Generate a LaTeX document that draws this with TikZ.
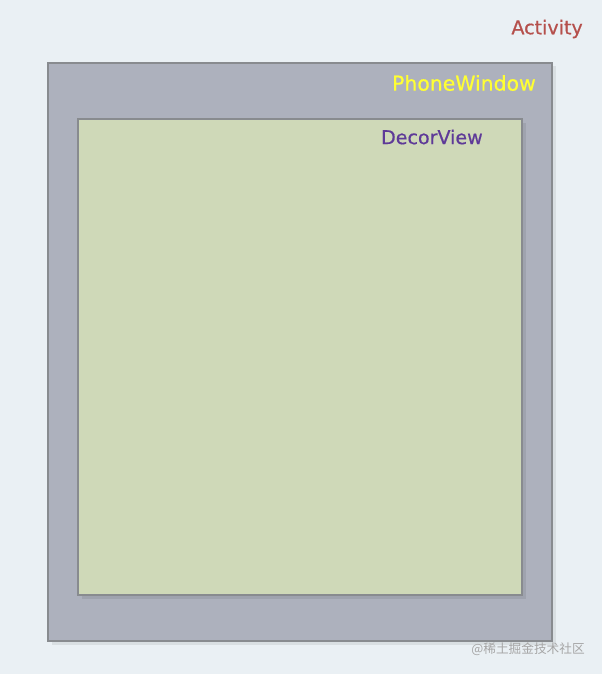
\documentclass[tikz,border=0pt]{standalone}
\usepackage{fontspec}
\setmainfont{DejaVu Sans}
\newfontfamily\labelfont[FakeBold=0.6]{DejaVu Sans}
\newfontfamily\cjk{Noto Sans CJK SC}
\usetikzlibrary{calc}
\definecolor{bgcol}{HTML}{EAF0F4}
\definecolor{windowcol}{HTML}{ADB1BD}
\definecolor{decorcol}{HTML}{CFD9B8}
\definecolor{edgecol}{HTML}{888B8F}
\definecolor{activitycol}{HTML}{B5504C}
\definecolor{phonecol}{HTML}{FFFF33}
\definecolor{decortext}{HTML}{5E3A98}

\begin{document}
\begin{tikzpicture}[x=0.75pt,y=-0.75pt,
		label/.style={inner sep=0pt, anchor=east}]
				\coordinate (O) at (0,0);
				\coordinate (E) at (602,674);
				\coordinate (w1) at (48,63);
				\coordinate (w2) at (552,641);
				\coordinate (d1) at (78,119);
				\coordinate (d2) at (522,595);
				\coordinate (s) at (3.5,3.5);
				
				\fill[bgcol] (O) rectangle (E);
				\useasboundingbox (O) rectangle (E);
				
				% shadows
				\fill[fill=black, opacity=0.07] ($(w1)+(s)$) rectangle ($(w2)+(s)$);
				\fill[fill=windowcol] (w1) rectangle (w2);
				\draw[edgecol, line width=1.2pt] (w1) rectangle (w2);
				
				\fill[fill=black, opacity=0.08] ($(d1)+(s)$) rectangle ($(d2)+(s)$);
				\fill[fill=decorcol] (d1) rectangle (d2);
				\draw[edgecol, line width=1.2pt] (d1) rectangle (d2);
				
				\node[label, activitycol, font=\labelfont\fontsize{14.3}{16}\selectfont] (activity) at (583,29) {Activity};
				\node[label, phonecol, font=\labelfont\fontsize{15.3}{18}\selectfont] (phone) at (536,83) {PhoneWindow};
				\node[label, decortext, font=\labelfont\fontsize{14.3}{16}\selectfont] (decor) at (483,137) {DecorView};
				\node[label, gray!70, font=\cjk\fontsize{9.5}{11}\selectfont] (mark) at (585,649) {@稀土掘金技术社区};
			\end{tikzpicture}
\end{document}
